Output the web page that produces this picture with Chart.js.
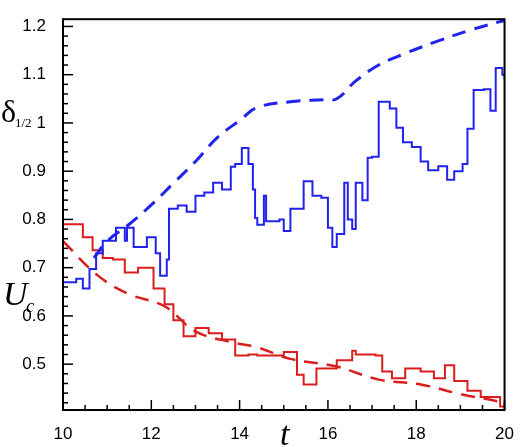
<!DOCTYPE html>
<html>
<head>
<meta charset="utf-8">
<script src="https://cdn.jsdelivr.net/npm/chart.js@4"></script>
<style>
  html, body { margin: 0; padding: 0; background: #fff; }
  #wrap { width: 520px; height: 447px; }
</style>
</head>
<body>
<div id="wrap"><canvas id="c" width="520" height="447"></canvas></div>
<script>
// delta_1/2, instantaneous (stepped) and mean (dashed)
const deltaT = [10, 10.3, 10.45, 10.6, 10.75, 10.9, 11.2, 11.4, 11.45, 11.6, 11.9, 12.1, 12.2, 12.35, 12.4, 12.6, 12.8, 13, 13.2, 13.4, 13.6, 13.8, 13.9, 14.05, 14.2, 14.3, 14.35, 14.4, 14.55, 14.6, 14.9, 15, 15.15, 15.45, 15.65, 15.85, 16, 16.1, 16.2, 16.37, 16.45, 16.55, 16.63, 16.78, 16.9, 17, 17.15, 17.4, 17.55, 17.7, 17.9, 18.1, 18.27, 18.5, 18.7, 18.86, 19.05, 19.16, 19.3, 19.53, 19.68, 19.8, 19.95, 20];
const deltaVals = [0.67, 0.677, 0.657, 0.697, 0.73, 0.756, 0.783, 0.756, 0.783, 0.743, 0.763, 0.73, 0.683, 0.717, 0.822, 0.829, 0.816, 0.849, 0.856, 0.876, 0.862, 0.909, 0.915, 0.948, 0.915, 0.862, 0.803, 0.789, 0.849, 0.796, 0.80, 0.776, 0.822, 0.879, 0.849, 0.845, 0.783, 0.743, 0.77, 0.876, 0.80, 0.78, 0.876, 0.84, 0.928, 0.93, 1.044, 1.03, 0.99, 0.96, 0.95, 0.92, 0.902, 0.91, 0.882, 0.90, 0.915, 0.988, 1.068, 1.07, 1.025, 1.114, 1.10, 1.09];
const deltaMeanT = [10.7, 11, 11.5, 12, 12.5, 13, 13.5, 14, 14.4, 15.15, 15.9, 16.2, 16.63, 17.15, 17.75, 18.5, 19.24, 19.9, 20];
const deltaMeanVals = [0.72, 0.755, 0.79, 0.83, 0.875, 0.92, 0.97, 1.005, 1.032, 1.044, 1.048, 1.05, 1.087, 1.12, 1.144, 1.17, 1.193, 1.21, 1.212];

// Uc, instantaneous (stepped) and mean (dashed)
const ucT = [10, 10.45, 10.67, 10.9, 11.13, 11.4, 11.7, 11.9, 12.05, 12.3, 12.5, 12.73, 13, 13.3, 13.6, 13.9, 14.2, 14.4, 14.85, 15, 15.3, 15.45, 15.74, 16.2, 16.55, 16.63, 17.08, 17.23, 17.45, 17.75, 18.1, 18.4, 18.65, 18.86, 19.16, 19.46, 19.9, 20];
const ucVals = [0.79, 0.763, 0.736, 0.72, 0.717, 0.69, 0.70, 0.70, 0.657, 0.624, 0.591, 0.558, 0.575, 0.564, 0.551, 0.518, 0.52, 0.518, 0.518, 0.525, 0.478, 0.458, 0.491, 0.508, 0.528, 0.52, 0.518, 0.485, 0.471, 0.491, 0.485, 0.471, 0.498, 0.465, 0.445, 0.432, 0.412, 0.42];
const ucMeanT = [10, 10.8, 11.5, 12.3, 13, 13.8, 14.4, 15.15, 16.2, 17.15, 18.1, 19, 19.9, 20];
const ucMeanVals = [0.755, 0.683, 0.645, 0.62, 0.568, 0.546, 0.535, 0.511, 0.495, 0.468, 0.458, 0.438, 0.422, 0.418];

const xTicks = [10, 12, 14, 16, 18, 20];
const yTicks = [0.5, 0.6, 0.7, 0.8, 0.9, 1, 1.1, 1.2];

const BLUE = '#2222ee';
const RED = '#d91e1e';

function pts(xs, ys) { return xs.map((x, i) => ({ x: x, y: ys[i] })); }

// inward major/minor ticks and axis labels
const decor = {
  id: 'decor',
  afterDraw(chart) {
    const ctx = chart.ctx, a = chart.chartArea;
    const xs = chart.scales.x, ys = chart.scales.y;
    ctx.save();
    ctx.strokeStyle = '#000';
    ctx.lineWidth = 1.5;
    for (let v = 10; v <= 20.001; v += 0.5) {
      const px = xs.getPixelForValue(v);
      const len = Math.abs(v - Math.round(v / 2) * 2) < 0.01 ? 10 : 5;
      ctx.beginPath(); ctx.moveTo(px, a.bottom); ctx.lineTo(px, a.bottom - len); ctx.stroke();
    }
    for (let v = 0.42; v <= 1.2101; v += 0.02) {
      const py = ys.getPixelForValue(v);
      const major = Math.abs(v * 10 - Math.round(v * 10)) < 0.01;
      const len = major ? 10 : 5;
      ctx.beginPath(); ctx.moveTo(a.left, py); ctx.lineTo(a.left + len, py); ctx.stroke();
    }
    ctx.lineWidth = 2;
    ctx.strokeRect(a.left, a.top, a.right - a.left, a.bottom - a.top);

    ctx.fillStyle = '#000';
    ctx.textBaseline = 'alphabetic';
    ctx.font = '32px "Liberation Serif"';
    ctx.fillText('δ', 1, 122);
    ctx.font = '13px "Liberation Serif"';
    ctx.fillText('1/2', 15, 127);
    ctx.font = 'italic 34px "Liberation Serif"';
    ctx.fillText('U', 3, 305);
    ctx.font = 'italic 19px "Liberation Serif"';
    ctx.fillText('c', 26, 312);
    ctx.font = 'italic 34px "Liberation Serif"';
    ctx.fillText('t', 280, 445);
    ctx.restore();
  }
};

new Chart(document.getElementById('c'), {
  type: 'line',
  data: {
    datasets: [
      { data: pts(deltaT, deltaVals), borderColor: BLUE, borderWidth: 2, stepped: true, pointRadius: 0 },
      { data: pts(deltaMeanT, deltaMeanVals), borderColor: BLUE, borderWidth: 3, borderDash: [14, 9], tension: 0.4, pointRadius: 0 },
      { data: pts(ucT, ucVals), borderColor: RED, borderWidth: 2, stepped: true, pointRadius: 0 },
      { data: pts(ucMeanT, ucMeanVals), borderColor: RED, borderWidth: 2.5, borderDash: [14, 9], tension: 0.4, pointRadius: 0 }
    ]
  },
  options: {
    responsive: false,
    animation: false,
    layout: { padding: { top: -9, right: 9, left: 0, bottom: 0 } },
    plugins: { legend: { display: false }, tooltip: { enabled: false } },
    scales: {
      x: {
        type: 'linear', min: 10, max: 20,
        grid: { display: false }, border: { display: false },
        afterBuildTicks: s => { s.ticks = xTicks.map(v => ({ value: v })); },
        afterFit: s => { s.height = 37; },
        ticks: { color: '#000', font: { family: 'Liberation Sans', size: 17 }, padding: 6 }
      },
      y: {
        type: 'linear', min: 0.405, max: 1.215,
        grid: { display: false }, border: { display: false },
        afterBuildTicks: s => { s.ticks = yTicks.map(v => ({ value: v })); },
        afterFit: s => { s.width = 63; },
        ticks: { color: '#000', font: { family: 'Liberation Sans', size: 17 }, padding: 9,
                 callback: v => String(Math.round(v * 10) / 10) }
      }
    }
  },
  plugins: [decor]
});
</script>
</body>
</html>
